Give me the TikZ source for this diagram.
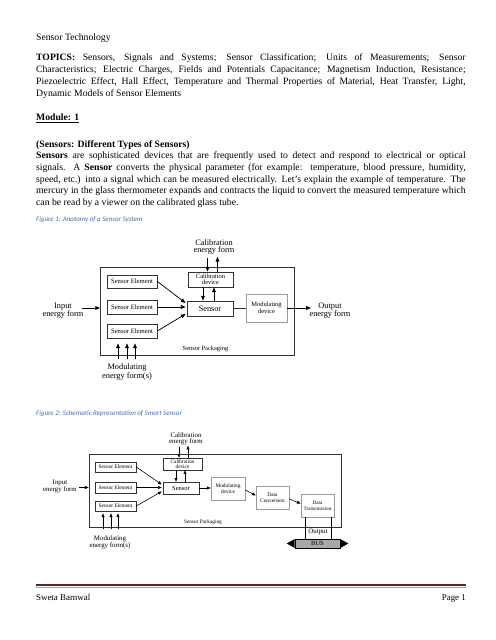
\documentclass[tikz,border=0pt]{standalone}
\usepackage{fontspec}
\setmainfont{Liberation Serif}
\newfontfamily\capfont{Carlito}
\usetikzlibrary{arrows.meta,calc}
\definecolor{capblue}{HTML}{4A6EA9}
\definecolor{footred}{HTML}{622423}
\definecolor{footpink}{HTML}{C99A9A}
\definecolor{boxgray}{HTML}{333333}
\definecolor{litegray}{HTML}{9A9A9A}
\definecolor{busgray}{HTML}{A8A8A8}
\begin{document}
\begin{tikzpicture}[x=1.23636pt,y=-1.23636pt,
  txt/.style={anchor=base west,inner sep=0pt,font=\fontsize{12}{14}\selectfont},
  captxt/.style={anchor=base west,inner sep=0pt,text=capblue,font=\capfont\itshape\fontsize{8.6}{10}\selectfont},
  foottxt/.style={inner sep=0pt,font=\fontsize{11}{13}\selectfont},
  boxa/.style={draw=boxgray,line width=0.9pt,inner sep=0pt,align=center},
  boxb/.style={draw=boxgray,line width=0.7pt,inner sep=0pt,align=center},
  liteb/.style={draw=litegray,line width=0.8pt,inner sep=0pt,align=center},
  lbl/.style={inner sep=0pt,align=center},
  arra/.style={line width=0.9pt,draw=black,-{Triangle[length=6pt,width=4.6pt]}},
  arrb/.style={line width=0.7pt,draw=black,-{Triangle[length=4.6pt,width=3.6pt]}},
]
\useasboundingbox[fill=white] (0,0) rectangle (495,640);

% ---------- text of the page ----------
\node[txt] (t0) at (36,41) {Sensor Technology};
\node[txt] (t1) at (36,61) {\makebox[531pt][s]{\textbf{TOPICS:} Sensors, Signals and Systems; Sensor Classification; Units of Measurements; Sensor}};
\node[txt] (t2) at (36,72.7) {\makebox[531pt][s]{Characteristics; Electric Charges, Fields and Potentials Capacitance; Magnetism Induction, Resistance;}};
\node[txt] (t3) at (36,84.4) {\makebox[531pt][s]{Piezoelectric Effect, Hall Effect, Temperature and Thermal Properties of Material, Heat Transfer, Light,}};
\node[txt] (t4) at (36,96.1) {Dynamic Models of Sensor Elements};
\node[txt] (t5) at (36,121) {\textbf{\underline{Module: 1}}};
\node[txt] (t6) at (36,147) {\textbf{(Sensors: Different Types of Sensors)}};
\node[txt] (t7) at (36,158.7) {\makebox[531pt][s]{\textbf{Sensors} are sophisticated devices that are frequently used to detect and respond to electrical or optical}};
\node[txt] (t8) at (36,170.4) {\makebox[531pt][s]{signals. A \textbf{Sensor} converts the physical parameter (for example:\ \ temperature, blood pressure, humidity,}};
\node[txt] (t9) at (36,182.1) {\makebox[531pt][s]{speed, etc.) into a signal which can be measured electrically. Let’s explain the example of temperature. The}};
\node[txt] (t10) at (36,193.8) {\makebox[531pt][s]{mercury in the glass thermometer expands and contracts the liquid to convert the measured temperature which}};
\node[txt] (t11) at (36,205.5) {can be read by a viewer on the calibrated glass tube.};

\node[captxt] (cap1) at (36,221) {Figure 1: Anatomy of a Sensor System};
\node[captxt] (cap2) at (36,415) {Figure 2: Schematic Representation of Smart Sensor};

% ---------- Figure 1 ----------
\node[draw=boxgray,line width=1pt,inner sep=0pt,minimum width=239.2pt,minimum height=108.8pt] (pack1) at (197.25,311) {};
\node[boxa,minimum width=61.8pt,minimum height=16pt,font=\fontsize{8.2}{9}\selectfont] (e11) at (132,281.5) {Sensor Element};
\node[boxa,minimum width=61.8pt,minimum height=17.3pt,font=\fontsize{8.2}{9}\selectfont] (e12) at (132,307) {Sensor Element};
\node[boxa,minimum width=61.8pt,minimum height=17.3pt,font=\fontsize{8.2}{9}\selectfont] (e13) at (132,331) {Sensor Element};
\node[boxa,minimum width=55.6pt,minimum height=18.5pt,font=\fontsize{8}{7.5}\selectfont] (cal1) at (210.5,279.5) {Calibration\\device};
\node[boxa,minimum width=56.9pt,minimum height=18.5pt,font=\fontsize{10.2}{11}\selectfont] (sen1) at (210,308.5) {Sensor};
\node[liteb,minimum width=50.7pt,minimum height=34.6pt,font=\fontsize{8}{8.5}\selectfont] (mod1) at (266.5,308) {Modulating\\device};
\node[lbl,font=\fontsize{10.3}{10.5}\selectfont] (in1) at (63,310.5) {Input\\energy form};
\node[lbl,font=\fontsize{10.3}{10.5}\selectfont] (out1) at (330,310.5) {Output\\energy form};
\node[lbl,font=\fontsize{10.3}{8.8}\selectfont] (calE1) at (214,247) {Calibration\\energy form};
\node[lbl,font=\fontsize{10.3}{10.5}\selectfont] (modE1) at (127,372) {Modulating\\energy form(s)};
\node[lbl,font=\fontsize{7.9}{9}\selectfont] (pkg1) at (205.5,349) {Sensor Packaging};

\coordinate (in1a) at (82,308);
\draw[arra] (in1a) -- (in1a -| pack1.west);
\draw[arra] (e11.east) -- ($(sen1.west)+(-1,-5.5)$);
\draw[arra] (e12.east) -- ($(e12.east -| sen1.west)+(-1,0)$);
\draw[arra] (e13.east) -- ($(sen1.west)+(-1,5.5)$);
\draw[arra] ($(cal1.north)+(-3,-14)$) -- ($(cal1.north)+(-3,0)$);
\draw[arra] ($(cal1.north)+(7,0)$) -- ($(cal1.north)+(7,-15)$);
\draw[arra] ($(cal1.south)+(-7.5,0)$) -- ($(sen1.north)+(-7,0)$);
\draw[arra] ($(sen1.north)+(4,0)$) -- ($(cal1.south)+(3.5,0)$);
\draw[line width=0.9pt,draw=boxgray] (sen1.east) -- (sen1.east -| mod1.west);
\coordinate (out1a) at (311,308);
\draw[arra] (mod1.east) -- (out1a);
\draw[arra] ($(modE1.north)+(-9,-5)$) coordinate (m1a) -- ($(m1a |- e13.south)+(0,5)$);
\draw[arra] ($(modE1.north)+(0,-5)$) coordinate (m1b) -- ($(m1b |- e13.south)+(0,5)$);
\draw[arra] ($(modE1.north)+(8,-5)$) coordinate (m1c) -- ($(m1c |- e13.south)+(0,5)$);

% ---------- Figure 2 ----------
\node[draw=boxgray,line width=0.9pt,inner sep=0pt,minimum width=311.6pt,minimum height=89.6pt] (pack2) at (215,490.75) {};
\node[boxb,minimum width=50.7pt,minimum height=12.4pt,font=\fontsize{6.6}{7}\selectfont] (e21) at (115.5,467) {Sensor Element};
\node[boxb,minimum width=50.7pt,minimum height=13.6pt,font=\fontsize{6.6}{7}\selectfont] (e22) at (115.5,487.5) {Sensor Element};
\node[boxb,minimum width=50.7pt,minimum height=12.4pt,font=\fontsize{6.6}{7}\selectfont] (e23) at (115.5,506) {Sensor Element};
\node[boxb,minimum width=48.2pt,minimum height=14.8pt,font=\fontsize{6.5}{6}\selectfont] (cal2) at (182.5,464) {Calibration\\device};
\node[boxb,minimum width=44.5pt,minimum height=14.8pt,font=\fontsize{8}{9}\selectfont] (sen2) at (181,488) {Sensor};
\node[liteb,minimum width=42pt,minimum height=28.4pt,font=\fontsize{6.6}{7.2}\selectfont] (mod2) at (228,488.5) {Modulating\\device};
\node[liteb,minimum width=40.8pt,minimum height=28.4pt,font=\fontsize{6.6}{7.2}\selectfont] (dc2) at (272.5,497.5) {Data\\Conversion};
\node[liteb,minimum width=40.8pt,minimum height=28.4pt,font=\fontsize{6.4}{7.2}\selectfont] (dt2) at (317.5,505.5) {Data\\Transmission};
\node[draw=black,line width=0.8pt,fill=busgray,inner sep=0pt,minimum width=55.6pt,minimum height=11.1pt,font=\fontsize{8}{9}\selectfont] (bus2) at (317.5,543.5) {BUS};
\node[lbl,font=\fontsize{8.5}{9}\selectfont] (outp2) at (318,532) {Output};
\node[lbl,font=\fontsize{8.5}{8.5}\selectfont] (in2) at (60,486.5) {Input\\energy form};
\node[lbl,font=\fontsize{8.5}{7.5}\selectfont] (calE2) at (186,438.5) {Calibration\\energy form};
\node[lbl,font=\fontsize{8.5}{8.5}\selectfont] (modE2) at (110,542) {Modulating\\energy form(s)};
\node[lbl,font=\fontsize{6.5}{7}\selectfont] (pkg2) at (203,522) {Sensor Packaging};

\coordinate (in2a) at (79,487.5);
\draw[arrb] (in2a) -- (in2a -| pack2.west);
\draw[arrb] (e21.east) -- ($(sen2.west)+(-1,-3.5)$);
\draw[arrb] (e22.east) -- ($(e22.east -| sen2.west)+(-1,0)$);
\draw[arrb] (e23.east) -- ($(sen2.west)+(-1,3.5)$);
\draw[arrb] ($(cal2.north)+(-3.5,-11)$) -- ($(cal2.north)+(-3.5,0)$);
\draw[arrb] ($(cal2.north)+(5.5,0)$) -- ($(cal2.north)+(5.5,-12)$);
\draw[arrb] ($(cal2.south)+(-6.5,0)$) -- ($(sen2.north)+(-5,0)$);
\draw[arrb] ($(sen2.north)+(4,0)$) -- ($(cal2.south)+(2.5,0)$);
\draw[arrb] (sen2.east) -- (sen2.east -| mod2.west);
\draw[arrb] ($(mod2.east)+(0,1.5)$) -- ($(dc2.west)+(0,-2)$);
\draw[arrb] ($(dc2.east)+(0,1.5)$) -- ($(dt2.west)+(0,-2)$);
\draw[line width=0.7pt] ($(dt2.south)+(-12.5,0)$) -- ($(bus2.north)+(-12.5,0)$);
\draw[line width=0.7pt] ($(dt2.south)+(13.5,0)$) -- ($(bus2.north)+(13.5,0)$);
\fill[black] ($(bus2.west)+(0,-4.5)$) -- ($(bus2.west)+(-8,0)$) -- ($(bus2.west)+(0,4.5)$) -- cycle;
\fill[black] ($(bus2.east)+(0,-4.5)$) -- ($(bus2.east)+(8,0)$) -- ($(bus2.east)+(0,4.5)$) -- cycle;
\draw[arrb] ($(modE2.north)+(-7,-6)$) coordinate (m2a) -- ($(m2a |- e23.south)+(0,2)$);
\draw[arrb] ($(modE2.north)+(1,-6)$) coordinate (m2b) -- ($(m2b |- e23.south)+(0,2)$);
\draw[arrb] ($(modE2.north)+(8,-6)$) coordinate (m2c) -- ($(m2c |- e23.south)+(0,2)$);

% ---------- footer ----------
\draw[line width=2.4pt,footred] (36,585.3) -- (466,585.3);
\draw[line width=0.7pt,footpink] (36,587.6) -- (466,587.6);
\node[foottxt,anchor=base west] (f1) at (36,600) {Sweta Barnwal};
\node[foottxt,anchor=base east] (f2) at (466,600) {Page 1};
\end{tikzpicture}
\end{document}
